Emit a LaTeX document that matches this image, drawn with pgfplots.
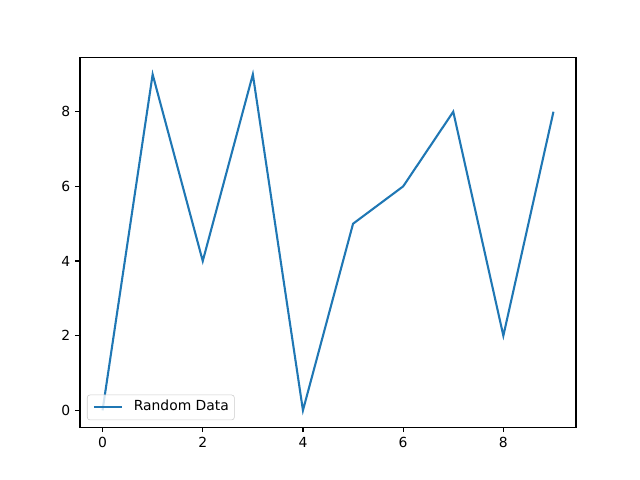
\documentclass[border=0pt]{standalone}
\usepackage{pgfplots}
\pgfplotsset{compat=1.18}
\usepackage{fontspec}
\setmainfont{DejaVu Sans}
\definecolor{tabblue}{HTML}{1F77B4}
\begin{document}
\begin{tikzpicture}
\begin{axis}[
  name=ax,
  scale only axis,
  width=357.12pt, height=266.11pt,
  xmin=-0.45, xmax=9.45, ymin=-0.45, ymax=9.45,
  xtick={0,2,4,6,8}, ytick={0,2,4,6,8},
  tick align=outside, tick pos=left,
  major tick length=3.5pt,
  axis line style={line width=0.8pt},
  every tick/.style={line width=0.8pt, black},
  tick label style={font=\fontsize{10}{12}\selectfont},
  /pgf/number format/assume math mode=true,
  legend style={font=\fontsize{10}{12}\selectfont, draw=black!20, rounded corners=2pt, fill=white, fill opacity=0.8, text opacity=1, inner xsep=4pt, inner ysep=4pt, at={(0,0)}, anchor=south west, xshift=5pt, yshift=5pt,
    nodes={inner sep=0pt, text height=7.5pt, text depth=2.5pt}, column sep=8pt},
  legend cell align=left,
  legend image code/.code={\draw[#1, line width=1.5pt] (0pt,0pt) -- (20pt,0pt);},
]
\addplot[tabblue, line width=1.5pt] coordinates {
(0,0) (1,9) (2,4) (3,9) (4,0) (5,5) (6,6) (7,8) (8,2) (9,8)};
\addlegendentry{Random Data}
\end{axis}
\path ([xshift=-57.6pt,yshift=-38.02pt]ax.south west) rectangle ([xshift=46.08pt,yshift=41.47pt]ax.north east);
\end{tikzpicture}
\end{document}
